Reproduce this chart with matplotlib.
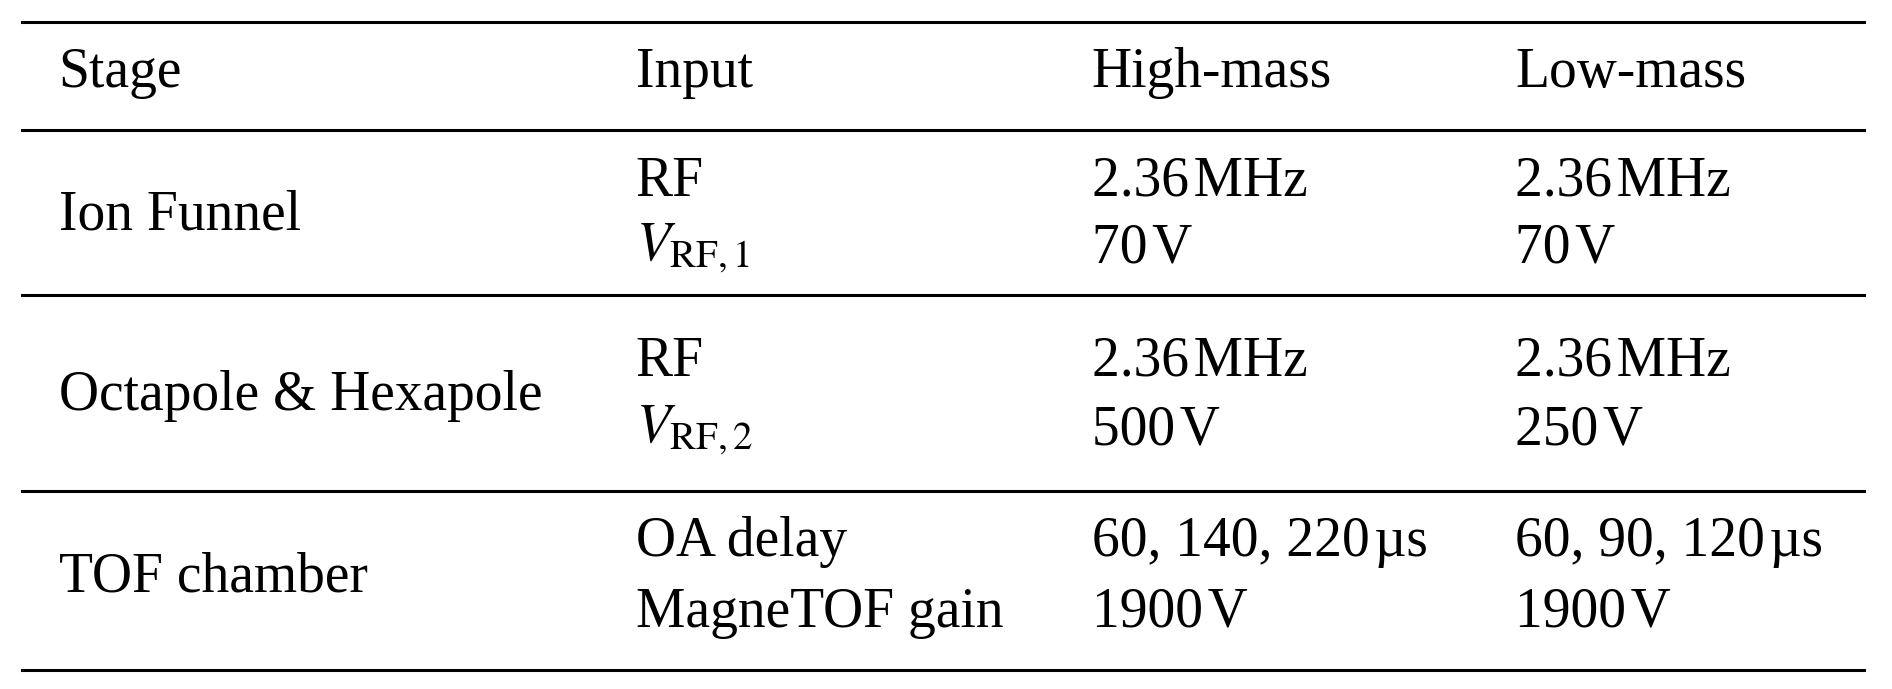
import matplotlib
matplotlib.use("Agg")
import matplotlib.pyplot as plt

plt.rcParams["font.family"] = "Liberation Serif"
plt.rcParams["mathtext.fontset"] = "stix"

headers = ["Stage", "Input", "High-mass", "Low-mass"]
stages = ["Ion Funnel", "Octapole & Hexapole", "TOF chamber"]
inputs = [["RF", r"$V_{\mathrm{RF},1}$"],
          ["RF", r"$V_{\mathrm{RF},2}$"],
          ["OA delay", "MagneTOF gain"]]
high_mass = [["2.36\u200aMHz", "70\u200aV"],
             ["2.36\u200aMHz", "500\u200aV"],
             ["60, 140, 220\u200a\u00b5s", "1900\u200aV"]]
low_mass = [["2.36\u200aMHz", "70\u200aV"],
            ["2.36\u200aMHz", "250\u200aV"],
            ["60, 90, 120\u200a\u00b5s", "1900\u200aV"]]

fig = plt.figure(figsize=(18.92, 6.89), dpi=100)
ax = fig.add_axes([0, 0, 1, 1])
ax.set_xlim(0, 1)
ax.set_ylim(1, 0)  # top-down
ax.axis("off")

col_x = [0.031, 0.336, 0.577, 0.801]
rules = [0.032, 0.188, 0.428, 0.713, 0.972]
row_y = [(0.264, 0.361), (0.525, 0.625), (0.787, 0.889)]
fs = 40

for y in rules:
    ax.plot([0.0115, 0.985], [y, y], color="black", lw=2.2)

for x, h in zip(col_x, headers):
    ax.text(x, 0.106, h, fontsize=fs, va="center", ha="left")

for i, stage in enumerate(stages):
    y1, y2 = row_y[i]
    ax.text(col_x[0], (y1 + y2) / 2, stage, fontsize=fs, va="center", ha="left")
    for j, y in enumerate((y1, y2)):
        ax.text(col_x[1], y, inputs[i][j], fontsize=fs, va="center", ha="left")
        ax.text(col_x[2], y, high_mass[i][j], fontsize=fs, va="center", ha="left")
        ax.text(col_x[3], y, low_mass[i][j], fontsize=fs, va="center", ha="left")

fig.savefig("out.png", dpi=100)
